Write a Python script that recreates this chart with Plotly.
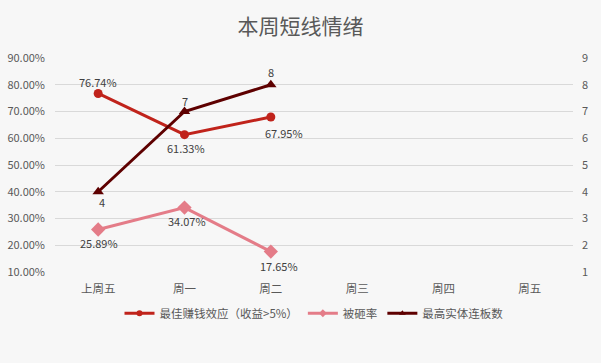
import plotly.graph_objects as go

categories = ["上周五", "周一", "周二", "周三", "周四", "周五"]
best_profit = [76.74, 61.33, 67.95]
hit_rate = [25.89, 34.07, 17.65]
max_board = [4, 7, 8]

names = ["最佳赚钱效应（收益>5%）", "被砸率", "最高实体连板数"]
colors = ["#C0231B", "#E47C88", "#5E0000"]

# label offsets in pixels (dx, dy down-positive)
off_profit = [(0, -11), (1, 13), (13, 16)]
off_hit = [(1, 14), (2, 13), (8, 14)]
off_board = [(4, 10), (0, -11), (0, -13)]

font_family = "Noto Sans CJK SC, Noto Sans, sans-serif"
txt = "#595959"
lbl = "#404040"

series = [
    (best_profit, names[0], colors[0], "circle", 9, "y", [f"{v:.2f}%" for v in best_profit], off_profit),
    (hit_rate, names[1], colors[1], "diamond", 11, "y", [f"{v:.2f}%" for v in hit_rate], off_hit),
    (max_board, names[2], colors[2], "triangle-up", 10, "y2", [str(v) for v in max_board], off_board),
]

fig = go.Figure()
annotations = []
for vals, name, col, sym, size, yax, texts, offs in series:
    xs = categories[:len(vals)]
    fig.add_trace(go.Scatter(
        x=xs, y=vals, name=name, mode="lines+markers", yaxis=yax, showlegend=False,
        line=dict(color=col, width=3),
        marker=dict(symbol=sym, size=size, color=col),
    ))
    # legend proxy with smaller marker
    fig.add_trace(go.Scatter(
        x=[None], y=[None], name=name, mode="lines+markers", yaxis=yax,
        line=dict(color=col, width=3),
        marker=dict(symbol=sym, size=6, color=col),
    ))
    for xv, yv, t, (dx, dy) in zip(xs, vals, texts, offs):
        annotations.append(dict(
            x=xv, y=yv, xref="x", yref=yax, text=t, showarrow=False,
            xshift=dx, yshift=-dy, xanchor="center", yanchor="middle",
            font=dict(size=11, color=lbl, family=font_family),
        ))

fig.update_layout(
    width=601, height=363,
    paper_bgcolor="#F7F7F7", plot_bgcolor="#F7F7F7",
    font=dict(family=font_family, color=txt, size=11),
    title=dict(text="本周短线情绪", x=0.5, xanchor="center", y=0.926, yanchor="middle",
               font=dict(size=21, color=txt, family=font_family)),
    margin=dict(l=55, r=28, t=58, b=91, autoexpand=False),
    showlegend=True,
    annotations=annotations,
    legend=dict(orientation="h", x=0.5, xanchor="center", y=-0.125, yanchor="top",
                font=dict(size=11.5, color=txt), itemwidth=30, tracegroupgap=0),
    xaxis=dict(type="category", categoryorder="array", categoryarray=categories,
               range=[-0.5, 5.5], showgrid=False, zeroline=False, showline=False,
               ticks="outside", ticklen=6, tickcolor="rgba(0,0,0,0)",
               tickfont=dict(size=11.5, color=txt)),
    yaxis=dict(range=[10, 90], dtick=10, tick0=10, ticksuffix="%", tickformat=".2f",
               gridcolor="#D9D9D9", gridwidth=1, zeroline=False, showline=False,
               ticklabelstandoff=9,
               tickfont=dict(size=11, color=txt)),
    yaxis2=dict(range=[1, 9], dtick=1, tick0=1, overlaying="y", side="right",
                showgrid=False, zeroline=False, showline=False,
                ticklabelstandoff=8,
                tickfont=dict(size=11, color=txt)),
)

fig.write_html("out.html", config={"displayModeBar": False},
               post_script="document.body.style.margin='0';")
